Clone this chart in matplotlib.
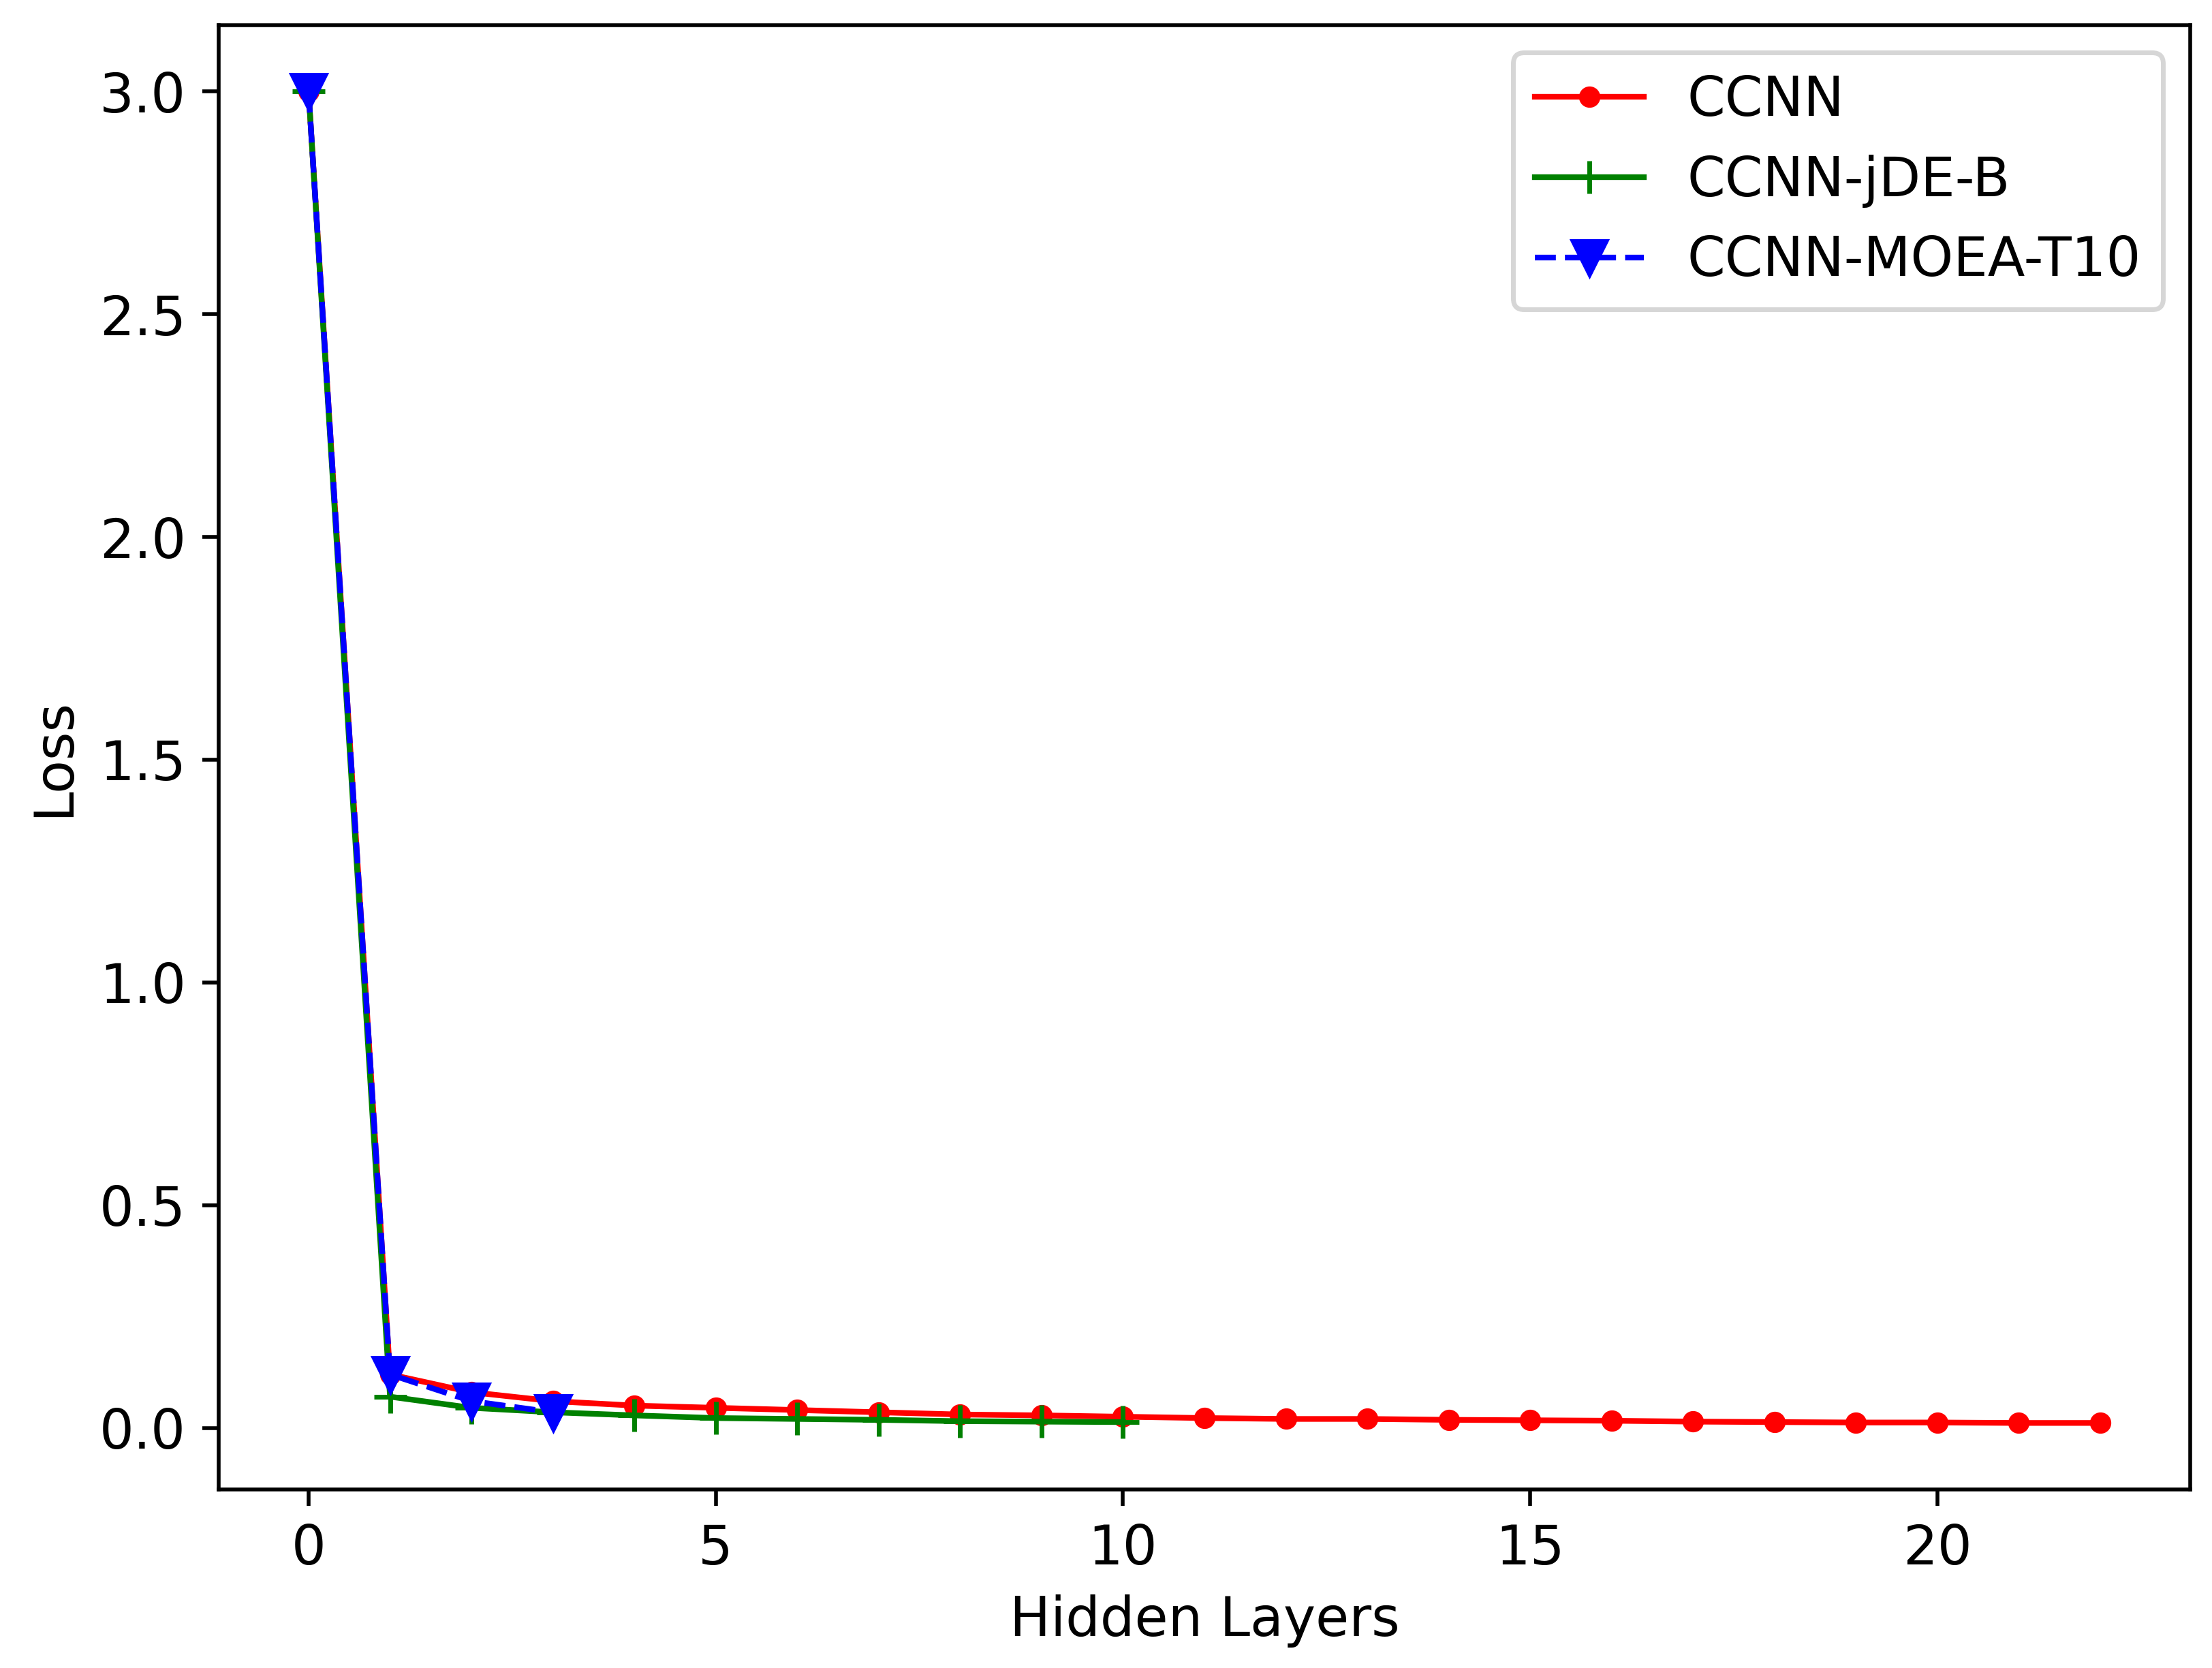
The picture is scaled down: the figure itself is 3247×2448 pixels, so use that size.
import matplotlib
matplotlib.use("Agg")
import matplotlib.pyplot as plt

ccnn_x = list(range(23))
ccnn_y = [3.0, 0.12, 0.08, 0.06, 0.05, 0.045, 0.04, 0.035, 0.03, 0.028, 0.025, 0.022,
          0.02, 0.02, 0.018, 0.017, 0.016, 0.014, 0.013, 0.012, 0.012, 0.011, 0.011]
jde_x = list(range(11))
jde_y = [3.0, 0.07, 0.045, 0.035, 0.028, 0.022, 0.02, 0.018, 0.015, 0.014, 0.013]
moea_x = list(range(4))
moea_y = [3.0, 0.12, 0.06, 0.035]

plt.rcParams['font.size'] = 11.5
fig = plt.figure(figsize=(3247/500, 2448/500), dpi=500)
ax = fig.add_axes([0.099, 0.107, 0.891, 0.878])
ax.plot(ccnn_x, ccnn_y, color='red', marker='.', markersize=7, linewidth=1.2, label='CCNN')
ax.plot(jde_x, jde_y, color='green', marker='+', markersize=7, linewidth=1.2, label='CCNN-jDE-B')
ax.plot(moea_x, moea_y, color='blue', marker='v', linestyle='--', markersize=7, linewidth=1.2, label='CCNN-MOEA-T10')
ax.set_xlabel('Hidden Layers')
ax.set_ylabel('Loss')
ax.set_xticks([0, 5, 10, 15, 20])
ax.set_yticks([0.0, 0.5, 1.0, 1.5, 2.0, 2.5, 3.0])
ax.legend(loc='upper right')
fig.savefig('out.png', dpi=500)
